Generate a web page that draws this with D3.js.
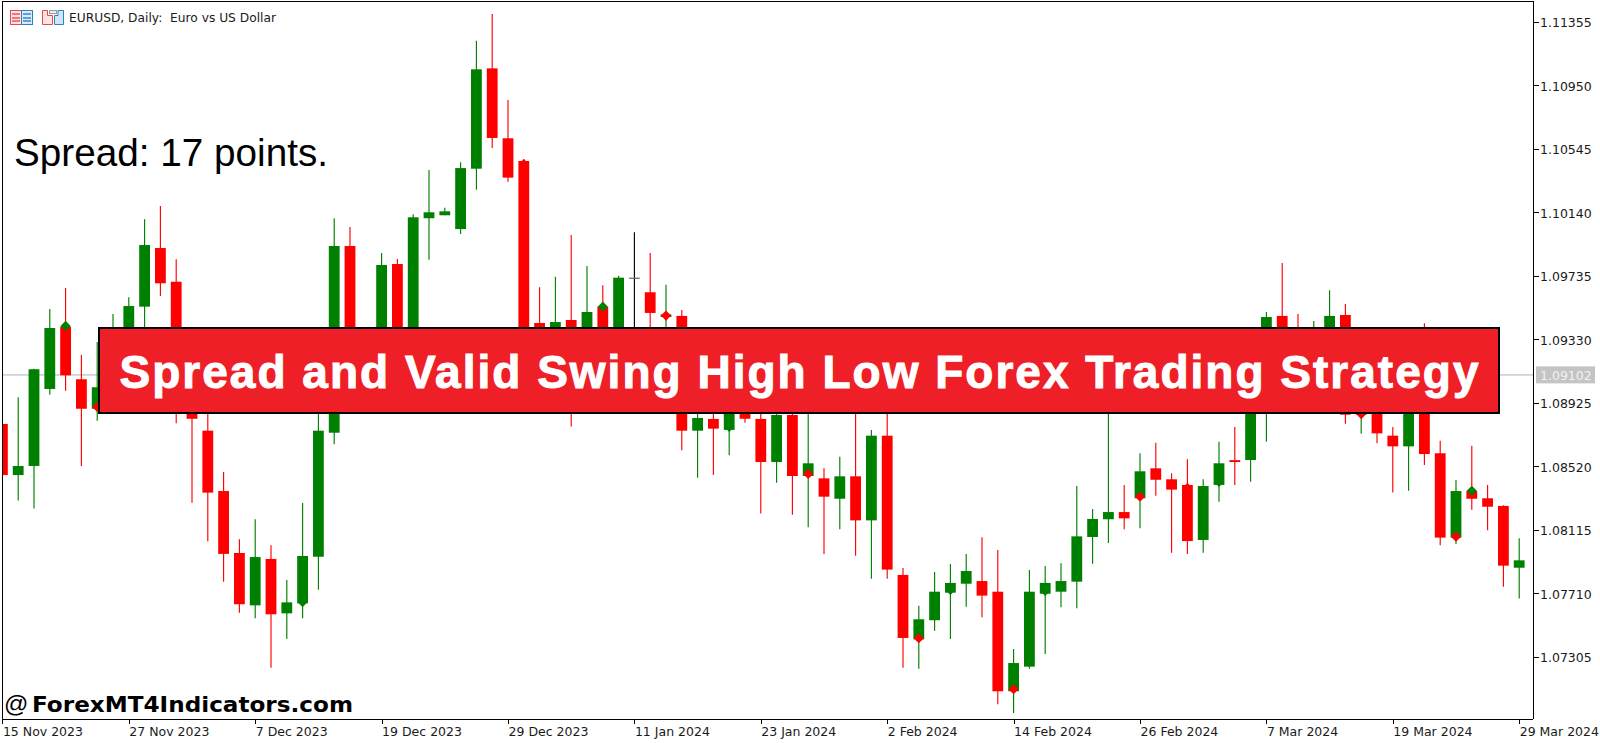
<!DOCTYPE html>
<html><head><meta charset="utf-8"><title>EURUSD Daily</title>
<script src="https://cdn.jsdelivr.net/npm/d3@7/dist/d3.min.js"></script>
<style>
html,body{margin:0;padding:0;background:#fff;overflow:hidden}
svg{display:block}
.mt{font-family:"DejaVu Sans",sans-serif;font-size:12.5px;fill:#1a1a1a}
</style></head><body>
<svg id="c" width="1600" height="743"></svg>
<script>
// All prices are in points (1 point = 0.00001)
const dateLabels=["15 Nov 2023","27 Nov 2023","7 Dec 2023","19 Dec 2023","29 Dec 2023","11 Jan 2024","23 Jan 2024","2 Feb 2024","14 Feb 2024","26 Feb 2024","7 Mar 2024","19 Mar 2024","29 Mar 2024"];
const priceTicks=[111355,110950,110545,110140,109735,109330,108925,108520,108115,107710,107305];
const lastPrice=109102;
const opens=[108789,108463,108521,109012,109409,109074,108886,109037,109293,109537,109911,109696,108974,108746,108361,107966,107632,107928,107581,107645,107942,108733,109924,109037,109133,109809,109120,110101,110120,110032,110417,111057,110611,110466,109433,109120,109452,109069,109537,109133,109722,109629,109471,109478,108746,108821,108751,108955,108821,108546,108846,108457,108442,108312,108455,108174,108714,107826,107415,107537,107713,107770,107787,107719,107084,107241,107706,107719,107783,108068,108181,108227,108315,108506,108436,108400,108049,108400,108558,108559,109120,109478,109356,109101,109293,109484,108848,108993,108714,108646,109037,108602,108064,108361,108315,108266,107872];
const closes=[108463,108521,109138,109401,109099,108886,109023,109293,109541,109930,109686,108974,108822,108351,107960,107639,107940,107575,107651,107947,108746,109924,109037,109133,109803,109120,110107,110139,110145,110421,111051,110613,110360,109101,109120,109439,109037,109503,109133,109722,109718,109497,109487,108746,108827,108759,108955,108822,108546,108846,108457,108538,108325,108455,108174,108714,107860,107424,107543,107719,107775,107851,107694,107084,107264,107719,107775,107787,108072,108183,108227,108187,108487,108433,108370,108042,108393,108538,108546,109120,109471,109261,109101,109325,109478,108848,109006,108729,108646,109037,108597,108064,108361,108312,108261,107885,107919];
const highs=[108789,108959,109141,109522,109656,109229,109312,109490,109597,110094,110179,109839,109037,108910,108483,108053,108181,108015,107794,108285,108942,110101,110045,109197,109879,109841,110126,110409,110168,110458,111233,111404,110855,110477,109661,109728,109994,109796,109673,109735,110011,109879,109677,109516,108910,108910,108993,109006,108929,108910,108916,108974,108506,108580,108974,108751,108974,107870,107630,107845,107896,107960,108066,107985,107354,107857,107883,107900,108393,108247,108942,108400,108602,108669,108474,108564,108436,108676,108770,109165,109503,109816,109490,109446,109642,109554,109069,109037,108770,109133,109431,108682,108432,108650,108400,108270,108060];
const lows=[108451,108300,108249,108976,109001,108521,108810,108974,109248,109356,109605,108793,108287,108041,107783,107585,107549,107234,107417,107549,107732,108659,108974,108955,109069,109037,109037,109837,110120,110000,110283,110549,110334,109037,108974,108974,108772,108974,109069,109037,109069,109037,109037,108621,108446,108463,108589,108797,108217,108414,108210,108130,107960,108117,107949,107802,107802,107234,107228,107470,107417,107623,107556,107001,106945,107228,107322,107620,107613,107898,108030,108117,108123,108331,107968,107960,107968,108293,108400,108421,108676,109133,109037,109006,109133,108791,108727,108666,108351,108363,108527,108015,108023,108242,108111,107751,107675];
// Swing markers
const swingHighIdx=[4,19,38,46,60,66,77,93];
const swingHighVal=[109414,107653,109537,108770,107730,107724,108419,108363];
const swingLowIdx=[6,33,42,51,58,64,72,75,86,92];
const swingLowVal=[108897,110447,109480,108470,107422,107097,108325,108380,108852,108070];

const GREEN="#008000",RED="#ff0000";
const svg=d3.select("#c");
const plotL=2,plotR=1533,plotT=1,plotB=719;
const x=d3.scaleLinear().domain([0,96]).range([2.4,1519.2]);
const y=d3.scaleLinear().domain([106754,111493]).range([743,0]);
svg.append("defs").append("clipPath").attr("id","pc").append("rect")
  .attr("x",plotL).attr("y",plotT).attr("width",plotR-plotL).attr("height",plotB-plotT);

const plot=svg.append("g").attr("clip-path","url(#pc)");
plot.append("line").attr("x1",plotL).attr("x2",plotR).attr("y1",y(lastPrice)).attr("y2",y(lastPrice))
  .attr("stroke","#d2d2d2").attr("stroke-width",1.6);

const idx=d3.range(opens.length);
const isDoji=i=>Math.abs(opens[i]-closes[i])<10;
const col=i=>isDoji(i)?"#000":(closes[i]>opens[i]?GREEN:RED);
plot.append("g").selectAll("line").data(idx).join("line")
  .attr("x1",i=>x(i)).attr("x2",i=>x(i)).attr("y1",i=>y(highs[i])).attr("y2",i=>y(lows[i]))
  .attr("stroke",col).attr("stroke-width",1.15);
const BW=10.8;
plot.append("g").selectAll("rect").data(idx).join("rect")
  .attr("x",i=>x(i)-BW/2).attr("width",BW)
  .attr("y",i=>y(Math.max(opens[i],closes[i])))
  .attr("height",i=>Math.max(1.2,Math.abs(y(opens[i])-y(closes[i]))))
  .attr("fill",i=>isDoji(i)?"#666":col(i));

function marks(ix,val,fill){
  plot.append("g").selectAll("rect").data(d3.range(ix.length)).join("rect")
    .attr("x",-3.6).attr("y",-3.6).attr("width",7.2).attr("height",7.2).attr("fill",fill)
    .attr("transform",k=>`translate(${x(ix[k])},${y(val[k])}) rotate(45)`);
}
marks(swingHighIdx,swingHighVal,GREEN);
marks(swingLowIdx,swingLowVal,RED);

// Frame
const frame=svg.append("g").attr("stroke","#000").attr("stroke-width",1).attr("shape-rendering","crispEdges");
frame.append("line").attr("x1",plotL+.5).attr("x2",plotL+.5).attr("y1",plotT).attr("y2",plotB);
frame.append("line").attr("x1",plotL).attr("x2",plotR).attr("y1",plotT+.5).attr("y2",plotT+.5);

// Axes
const ax=d3.axisRight(y).tickValues(priceTicks).tickFormat(v=>(v/1e5).toFixed(5)).tickSize(5).tickPadding(1.5);
const gy=svg.append("g").attr("transform",`translate(${plotR+.5},0)`).call(ax);
const xTicks=d3.range(0,97,8);
const bx=d3.axisBottom(x).tickValues(xTicks).tickFormat((d,i)=>dateLabels[i]).tickSize(4).tickPadding(4);
const gx=svg.append("g").attr("transform",`translate(0,${plotB+.5})`).call(bx);
[gy,gx].forEach(g=>{
  g.select(".domain").attr("stroke","#000").attr("d",g===gy?`M0,${plotT}V${plotB}`:`M${plotL},0H${plotR}`);
  g.selectAll(".tick line").attr("stroke","#000").attr("shape-rendering","crispEdges");
  g.selectAll("text").attr("class","mt").attr("fill",null);
});
gx.selectAll("text").attr("text-anchor","start").attr("x",0);
gy.selectAll("text").attr("dy","0.4em");
svg.append("rect").attr("x",1536).attr("y",y(lastPrice)-8.5).attr("width",59).attr("height",17).attr("fill","#c4c4c4");
svg.append("text").attr("class","mt").attr("x",1540).attr("y",y(lastPrice)+5).style("fill","#f2f2f2").text((lastPrice/1e5).toFixed(5));

// Header icons
const ic=svg.append("g").attr("stroke-width",1);
ic.append("rect").attr("x",10.5).attr("y",10.5).attr("width",11).attr("height",14).attr("fill","#fde2e2").attr("stroke","#e9484d");
ic.append("rect").attr("x",21.5).attr("y",10.5).attr("width",11).attr("height",14).attr("fill","#d9ebf8").attr("stroke","#2f7fc1");
[14,18,21].forEach(v=>{
  ic.append("line").attr("x1",12).attr("x2",20).attr("y1",v).attr("y2",v).attr("stroke","#e9484d").attr("stroke-width",1.4);
  ic.append("line").attr("x1",23).attr("x2",31).attr("y1",v).attr("y2",v).attr("stroke","#2f7fc1").attr("stroke-width",1.4);
});
ic.append("path").attr("d","M42.5,10.5H47.5V15.5H52.5V24.5H42.5Z").attr("fill","#fde2e2").attr("stroke","#e9484d");
ic.append("path").attr("d","M54.5,24.5V15.5H58V10.5H63.5V24.5Z").attr("fill","#cfe6f7").attr("stroke","#2f7fc1");
ic.append("rect").attr("x",49.5).attr("y",10.5).attr("width",7).attr("height",3).attr("fill","#eee").attr("stroke","#999");
svg.append("text").attr("class","mt").attr("x",69).attr("y",22).attr("textLength",207).attr("lengthAdjust","spacingAndGlyphs").attr("xml:space","preserve").text("EURUSD, Daily:  Euro vs US Dollar");

svg.append("text").attr("x",14).attr("y",166).style("font-family","'Liberation Sans',Arial,sans-serif").style("font-size","38.7px").attr("fill","#000").text("Spread: 17 points.");

// Banner
svg.append("rect").attr("x",99).attr("y",328).attr("width",1400).attr("height",85).attr("fill","#ee1f27").attr("stroke","#000").attr("stroke-width",2);
svg.append("text").attr("x",119.5).attr("y",388).attr("textLength",1359).attr("lengthAdjust","spacing")
  .style("font-family","'Liberation Sans',Arial,sans-serif").style("font-weight","700").style("font-size","46px")
  .attr("fill","#fff").attr("stroke","#fff").attr("stroke-width",1)
  .text("Spread and Valid Swing High Low Forex Trading Strategy");

// Watermark
svg.append("text").attr("x",4).attr("y",712).style("font-family","'Liberation Sans',Arial,sans-serif").style("font-size","24px").attr("fill","#000").text("@");
svg.append("text").attr("x",32).attr("y",712).attr("textLength",321).attr("lengthAdjust","spacingAndGlyphs")
  .style("font-family","'DejaVu Sans',sans-serif").style("font-weight","700").style("font-size","21.5px")
  .attr("fill","#000").text("ForexMT4Indicators.com");
</script>
</body></html>
